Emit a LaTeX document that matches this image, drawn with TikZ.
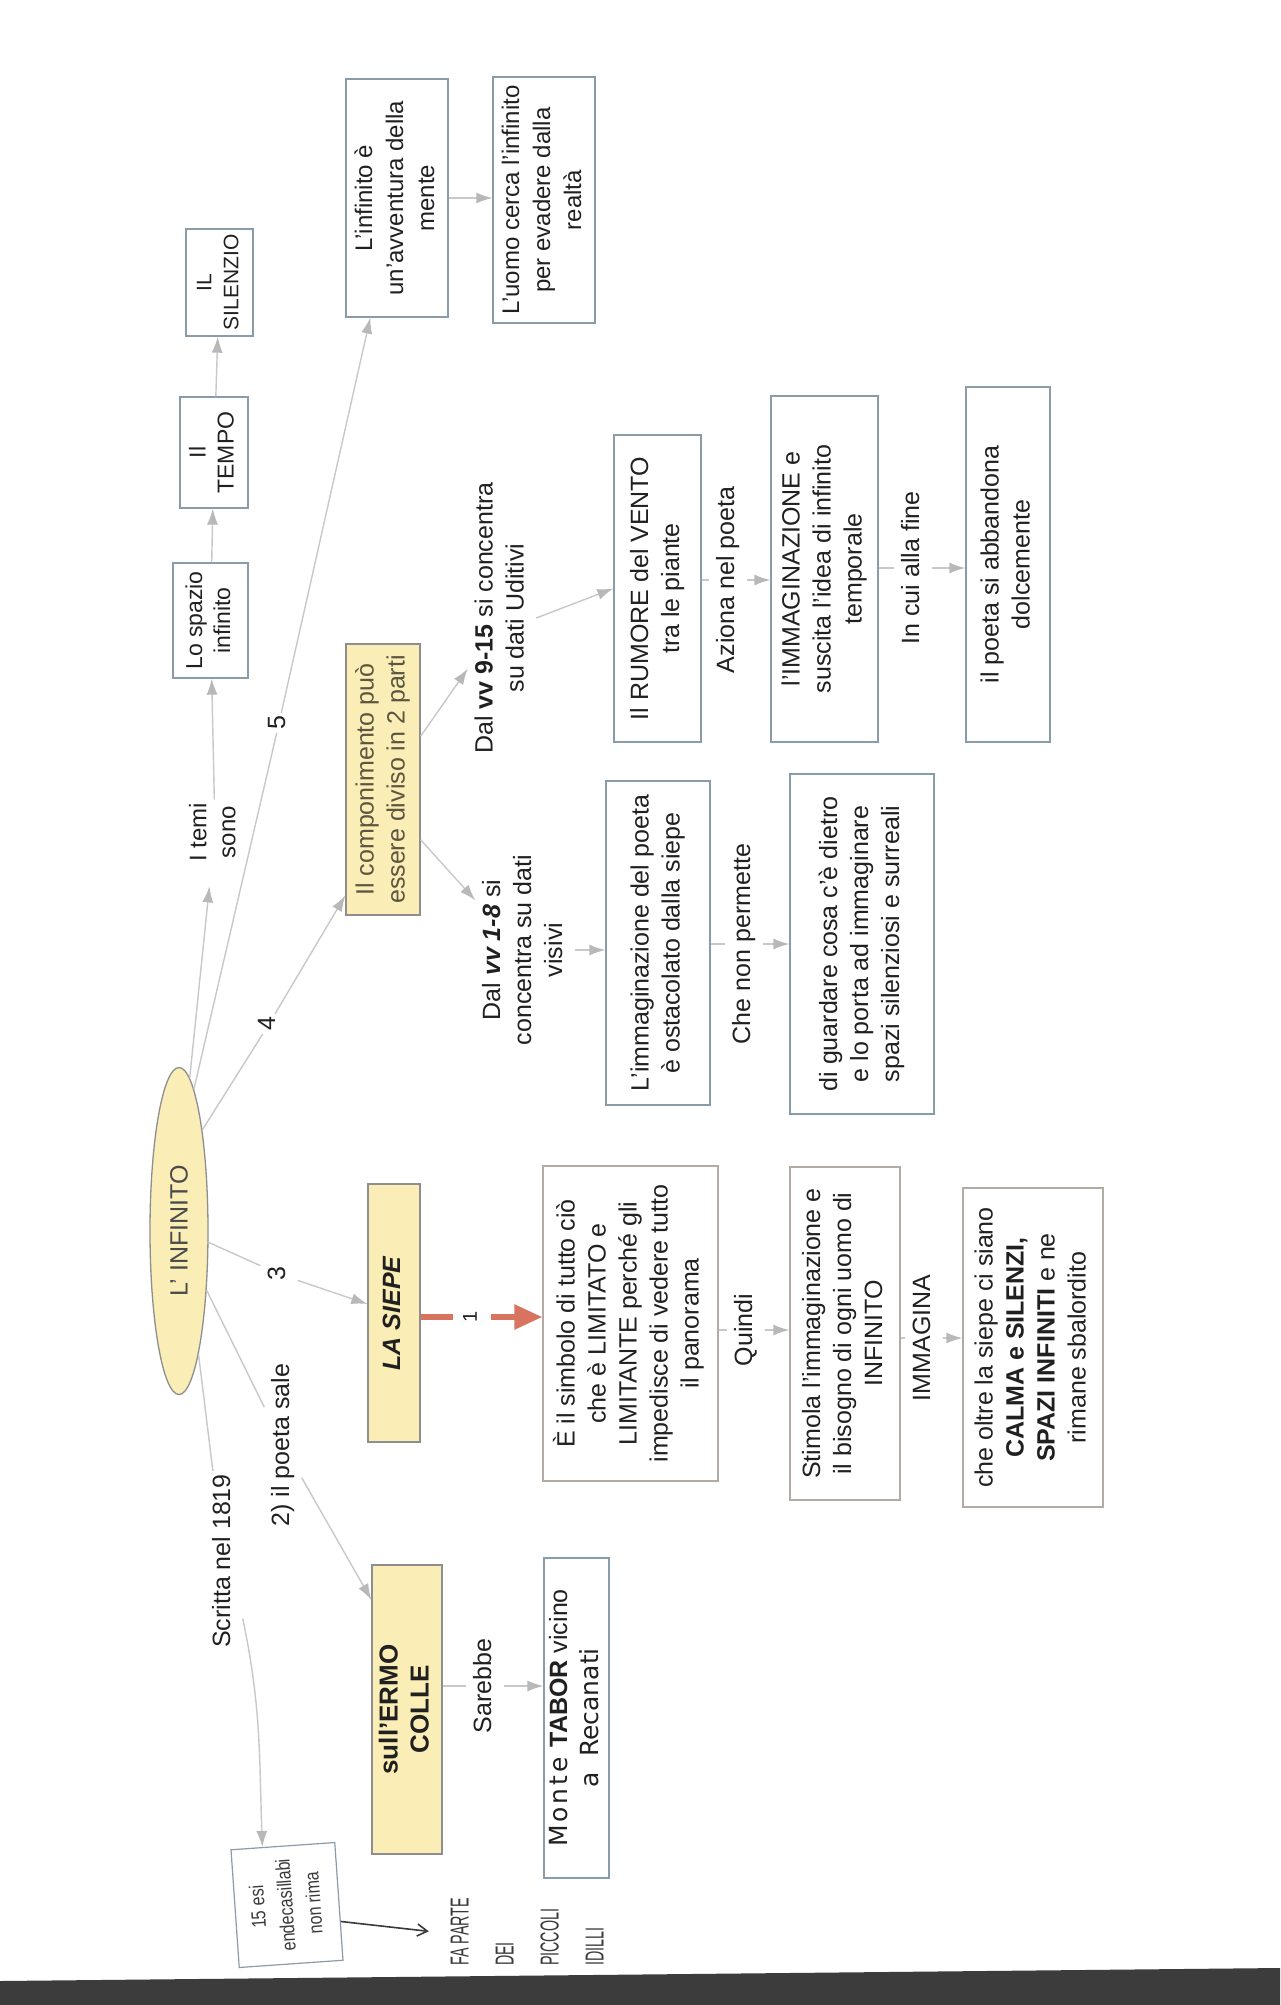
\documentclass[tikz,border=0pt]{standalone}
\usepackage{fontspec}
\setmainfont{Liberation Sans}
\newfontfamily\dejavu{DejaVu Sans}
\usetikzlibrary{shapes.geometric,arrows.meta,calc}
\definecolor{yel}{HTML}{FAEEB6}
\definecolor{ygray}{HTML}{8E8E8E}
\definecolor{bblue}{HTML}{8A9BAA}
\definecolor{bwarm}{HTML}{B3ABA3}
\definecolor{lgray}{HTML}{C8C8C8}
\definecolor{agray}{HTML}{B8B8B8}
\definecolor{txt}{HTML}{202020}
\definecolor{etxt}{HTML}{4A4A4A}
\definecolor{otxt}{HTML}{5C5540}
\definecolor{redc}{HTML}{D8735F}
\definecolor{stripc}{HTML}{3C3C3C}
\definecolor{hand}{HTML}{3A3A3A}
\newcommand\rt[2][c]{\rotatebox{90}{\begin{tabular}{@{}#1@{}}#2\end{tabular}}}
\newcommand\bx[7]{\node[#2, minimum width={(#5)-(#3)}, minimum height={(#6)-(#4)}] (#1) at ({((#3)+(#5))/2},{((#4)+(#6))/2}) {#7};}
\tikzset{
  boxb/.style={draw=bblue, line width=1.3pt, fill=white, inner sep=0pt, text=txt},
  boxw/.style={draw=bwarm, line width=1.3pt, fill=white, inner sep=0pt, text=txt},
  boxy/.style={draw=ygray, line width=1.3pt, fill=yel, inner sep=0pt, text=txt},
  theme/.style={boxb, font=\fontsize{23}{28}\selectfont},
  lbl/.style={inner sep=3pt, text=txt},
  ln/.style={draw=lgray, line width=1.4pt},
  arr/.style={ln, -{Latex[length=16pt, width=11pt, color=agray]}},
  redl/.style={draw=redc, line width=5.5pt},
  handl/.style={draw=hand, line width=1.6pt, -{Straight Barb[length=10pt, width=12pt]}},
}
\begin{document}
\begin{tikzpicture}[x=1pt, y=-1pt, font=\fontsize{25}{31}\selectfont]
\useasboundingbox (0,0) rectangle (1280,2005);
\fill[white] (0,0) rectangle (1280,2005);
\fill[stripc] (0,1981) -- (1280,1968) -- (1280,2005) -- (0,2005) -- cycle;

% themes
\bx{sil}{theme, font=\fontsize{21}{27}\selectfont}{186}{229}{253}{336}{\rt{IL\\SILENZIO}}
\bx{tempo}{theme}{180}{397}{248}{508}{\rt{Il\\TEMPO}}
\bx{spazio}{theme}{173}{563}{248}{678}{\rt{Lo spazio\\infinito}}
\node[lbl, font=\fontsize{24}{29}\selectfont] (itemi) at (215,832) {\rt{I temi\\sono}};

\bx{avv}{boxb, font=\fontsize{24}{31}\selectfont}{346}{79}{448}{317}{\rt{L'infinito è\\un'avventura della\\mente}}
\bx{uomo}{boxb, font=\fontsize{24}{31}\selectfont}{493}{77}{595}{323}{\rt{L'uomo cerca l'infinito\\per evadere dalla\\realtà}}

\bx{comp}{boxy, text=otxt}{346}{644}{420}{915}{\rt{Il componimento può\\essere diviso in 2 parti}}
\node[lbl] (d915) at (502,618) {\rt{Dal \textbf{vv 9-15} si concentra\\su dati Uditivi}};
\node[lbl] (d18) at (525,950) {\rt{Dal \textbf{\textit{vv 1-8}} si\\concentra su dati\\visivi}};

\bx{rum}{boxb}{614}{435}{701}{742}{\rt{Il RUMORE del VENTO\\tra le piante}}
\node[lbl] (az) at (728,580) {\rt{Aziona nel poeta}};
\bx{imm2}{boxb}{771}{396}{878}{742}{\rt{l'IMMAGINAZIONE e\\suscita l'idea di infinito\\temporale}}
\node[lbl] (cui) at (913,568) {\rt{In cui alla fine}};
\bx{abb}{boxb}{966}{387}{1050}{742}{\rt{il poeta si abbandona\\dolcemente}}

\bx{imm1}{boxb}{606}{781}{710}{1105}{\rt{L'immaginazione del poeta\\è ostacolato dalla siepe}}
\node[lbl] (perm) at (744,944) {\rt{Che non permette}};
\bx{guar}{boxb}{790}{774}{934}{1114}{\rt{di guardare cosa c'è dietro\\e lo porta ad immaginare\\spazi silenziosi e surreali}}

% centre
\node[ellipse, draw=ygray, fill=yel, line width=1.3pt, minimum width=58, minimum height=327, inner sep=0pt, text=etxt] (inf) at (179,1231) {\rotatebox{90}{L' INFINITO}};

\bx{siepe}{boxy}{368}{1184}{420}{1442}{\rt{\textbf{\textit{LA SIEPE}}}}
\bx{simb}{boxw}{543}{1166}{718}{1481}{\rt{È il simbolo di tutto ciò\\che è LIMITATO e\\LIMITANTE perché gli\\impedisce di vedere tutto\\il panorama}}
\node[lbl] (quindi) at (746,1330) {\rt{Quindi}};
\bx{stim}{boxw}{790}{1167}{900}{1500}{\rt{Stimola l'immaginazione e\\il bisogno di ogni uomo di\\INFINITO}}
\node[lbl] (imma) at (924,1338) {\rt{IMMAGINA}};
\bx{oltre}{boxw}{963}{1188}{1103}{1507}{\rt{che oltre la siepe ci siano\\\textbf{CALMA e SILENZI,}\\\textbf{SPAZI INFINITI} e ne\\rimane sbalordito}}

\bx{ermo}{boxy, font=\fontsize{26}{31}\selectfont}{372}{1565}{442}{1854}{\rt{\textbf{sull'ERMO}\\\textbf{COLLE}}}
\node[lbl] (sar) at (485,1686) {\rt{Sarebbe}};
\bx{monte}{boxb}{544}{1558}{609}{1878}{\rt{{\dejavu\addfontfeatures{LetterSpace=12}Monte} \textbf{TABOR} vicino\\{\dejavu a\ \ Recanati}}}

% numbers / labels
\node[lbl] (l5) at (279,723) {\rt{5}};
\node[lbl] (l4) at (269,1024) {\rt{4}};
\node[lbl] (l3) at (279,1274) {\rt{3}};
\node[lbl] (l2) at (283,1445) {\rt{2) il poeta sale}};
\node[lbl] (lscr) at (224,1561) {\rt{Scritta nel 1819}};
\node[lbl, font=\fontsize{20}{24}\selectfont, inner sep=7pt] (l1) at (472,1317) {\rt{1}};

% handwritten
\node[draw=bblue, line width=1.2pt, fill=white, rotate=4, minimum width=104, minimum height=118, inner sep=0pt, text=hand, font=\fontsize{20}{28}\selectfont] (esi) at (287,1905) {\rotatebox{90}{\scalebox{0.8}[1]{\begin{tabular}{@{}c@{}}15 esi\\endecasillabi\\non rima\end{tabular}}}};
\node[inner sep=2pt, text=hand, font=\fontsize{26}{45}\selectfont] (fa) at (527,1932) {\rotatebox{90}{\scalebox{0.55}[1]{\begin{tabular}{@{}l@{}}FA PARTE\\DEI\\PICCOLI\\IDILLI\end{tabular}}}};

% connectors
\draw[arr] (itemi) -- (spazio);
\draw[arr] (spazio) -- (tempo);
\draw[arr] (tempo) -- (sil);
\draw[arr, shorten >=22pt] (inf.86) -- (itemi);
\draw[ln] (inf.84) -- (l5);
\draw[arr] (l5) -- (avv);
\draw[arr] (avv.east) -- (uomo.west |- avv.east);
\draw[ln] (inf.77) -- (l4);
\draw[arr] (l4) -- (comp.252);
\draw[arr] (comp.49) -- (d915.236);
\draw[arr] (d915.east) -- (rum.west);
\draw[arr] (comp.-58.5) -- (d18.135);
\draw[arr] (d18.east) -- (imm1.west |- d18.east);
\draw[ln] (imm1.east |- perm) -- (perm);
\draw[arr] (perm) -- (guar.west |- perm);
\draw[ln] (rum.east |- az) -- (az);
\draw[arr] (az) -- (imm2.west |- az);
\draw[ln] (imm2.east |- cui) -- (cui);
\draw[arr] (cui) -- (abb.west |- cui);
\draw[ln] (inf.-21) -- (l3);
\draw[arr] (l3) -- (siepe);
\draw[redl] (siepe.east |- l1) -- (l1);
\draw[redl, -{Triangle[length=28pt, width=24pt]}] (l1) -- (simb.west |- l1);
\draw[ln] (simb.east |- quindi) -- (quindi);
\draw[arr] (quindi) -- (stim.west |- quindi);
\draw[ln] (stim.east |- imma) -- (imma);
\draw[arr] (imma) -- (oltre.west |- imma);
\draw[ln] (inf.-65) -- (l2);
\draw[arr] (l2) -- (ermo.108);
\draw[ln] (ermo.east |- sar) -- (sar);
\draw[arr] (sar) -- (monte.west |- sar);
\draw[ln] (inf.-81) -- (lscr);
\draw[arr] (lscr.-72) to[out=-78, in=92] (esi.109);
\draw[handl, shorten >=6pt] (esi.-21) -- (fa.west);
\end{tikzpicture}
\end{document}
